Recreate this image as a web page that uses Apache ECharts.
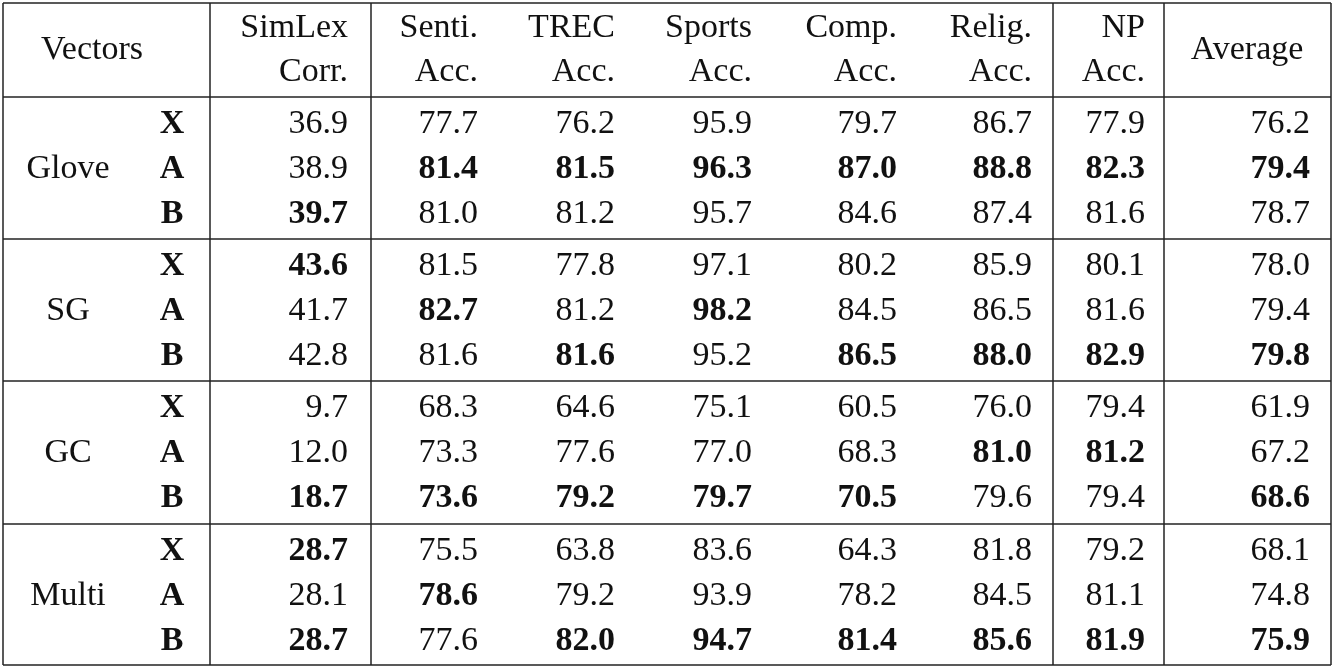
<!DOCTYPE html>
<html>
<head>
<meta charset="utf-8">
<script src="https://cdn.jsdelivr.net/npm/echarts@6/dist/echarts.min.js"></script>
<style>html,body{margin:0;padding:0;background:#fff}#container{width:1335px;height:670px}</style>
</head>
<body>
<div id="container"></div>
<script>
var headerTop = ['SimLex', 'Senti.', 'TREC', 'Sports', 'Comp.', 'Relig.', 'NP'];
var headerBottom = ['Corr.', 'Acc.', 'Acc.', 'Acc.', 'Acc.', 'Acc.', 'Acc.'];
var models = ['Glove', 'SG', 'GC', 'Multi'];
var variants = ['X', 'A', 'B'];

// one row per model/variant: SimLex, Senti, TREC, Sports, Comp, Relig, NP, Average
var values = [
    [36.9, 77.7, 76.2, 95.9, 79.7, 86.7, 77.9, 76.2],
    [38.9, 81.4, 81.5, 96.3, 87.0, 88.8, 82.3, 79.4],
    [39.7, 81.0, 81.2, 95.7, 84.6, 87.4, 81.6, 78.7],
    [43.6, 81.5, 77.8, 97.1, 80.2, 85.9, 80.1, 78.0],
    [41.7, 82.7, 81.2, 98.2, 84.5, 86.5, 81.6, 79.4],
    [42.8, 81.6, 81.6, 95.2, 86.5, 88.0, 82.9, 79.8],
    [9.7, 68.3, 64.6, 75.1, 60.5, 76.0, 79.4, 61.9],
    [12.0, 73.3, 77.6, 77.0, 68.3, 81.0, 81.2, 67.2],
    [18.7, 73.6, 79.2, 79.7, 70.5, 79.6, 79.4, 68.6],
    [28.7, 75.5, 63.8, 83.6, 64.3, 81.8, 79.2, 68.1],
    [28.1, 78.6, 79.2, 93.9, 78.2, 84.5, 81.1, 74.8],
    [28.7, 77.6, 82.0, 94.7, 81.4, 85.6, 81.9, 75.9]
];
// 1 = bold
var bold = [
    [0, 0, 0, 0, 0, 0, 0, 0],
    [0, 1, 1, 1, 1, 1, 1, 1],
    [1, 0, 0, 0, 0, 0, 0, 0],
    [1, 0, 0, 0, 0, 0, 0, 0],
    [0, 1, 0, 1, 0, 0, 0, 0],
    [0, 0, 1, 0, 1, 1, 1, 1],
    [0, 0, 0, 0, 0, 0, 0, 0],
    [0, 0, 0, 0, 0, 1, 1, 0],
    [1, 1, 1, 1, 1, 0, 0, 1],
    [1, 0, 0, 0, 0, 0, 0, 0],
    [0, 1, 0, 0, 0, 0, 0, 0],
    [1, 0, 1, 1, 1, 1, 1, 1]
];

// layout (pixels)
var colRight = [348, 478, 615, 752, 897, 1032, 1145, 1310];
var vLines = [3, 210, 371, 1053, 1164, 1331];
var hLines = [3, 97, 239, 381, 524, 665];
var rowPitch = 45;
var font = '"Liberation Serif", "DejaVu Serif", serif';
var fs = 34;

var cells = [];
values.forEach(function (row, r) {
    var g = Math.floor(r / 3);
    var y = hLines[g + 1] + 27 + (r % 3) * rowPitch;
    cells.push([172, y, variants[r % 3], 1, 'center']);
    if (r % 3 === 1) cells.push([68, y, models[g], 0, 'center']);
    row.forEach(function (v, c) {
        cells.push([colRight[c], y, v.toFixed(1), bold[r][c], 'right']);
    });
});
headerTop.forEach(function (t, c) {
    cells.push([colRight[c], 28, t, 0, 'right']);
    cells.push([colRight[c], 72, headerBottom[c], 0, 'right']);
});
cells.push([92, 50, 'Vectors', 0, 'center']);
cells.push([1247, 50, 'Average', 0, 'center']);

var lines = [];
vLines.forEach(function (x) { lines.push([x, hLines[0], x, hLines[hLines.length - 1]]); });
hLines.forEach(function (y) { lines.push([vLines[0], y, vLines[vLines.length - 1], y]); });

var myChart = echarts.init(document.getElementById('container'), null, { renderer: 'canvas' });
myChart.setOption({
    animation: false,
    grid: { left: 0, right: 0, top: 0, bottom: 0 },
    xAxis: { type: 'value', min: 0, max: 1335, show: false },
    yAxis: { type: 'value', min: 0, max: 670, inverse: true, show: false },
    series: [
        {
            type: 'custom',
            data: lines,
            renderItem: function (params, api) {
                var a = api.coord([api.value(0), api.value(1)]);
                var b = api.coord([api.value(2), api.value(3)]);
                return {
                    type: 'line',
                    shape: { x1: a[0], y1: a[1], x2: b[0], y2: b[1] },
                    style: { stroke: '#222', lineWidth: 1.5 }
                };
            }
        },
        {
            type: 'custom',
            data: cells,
            renderItem: function (params, api) {
                var d = cells[params.dataIndex];
                var p = api.coord([d[0], d[1]]);
                return {
                    type: 'text',
                    x: p[0],
                    y: p[1],
                    style: {
                        text: d[2],
                        fill: '#111',
                        font: (d[3] ? 'bold ' : '') + fs + 'px ' + font,
                        textAlign: d[4],
                        textVerticalAlign: 'middle'
                    }
                };
            }
        }
    ]
});
window.addEventListener('resize', function () { myChart.resize(); });
</script>
</body>
</html>
